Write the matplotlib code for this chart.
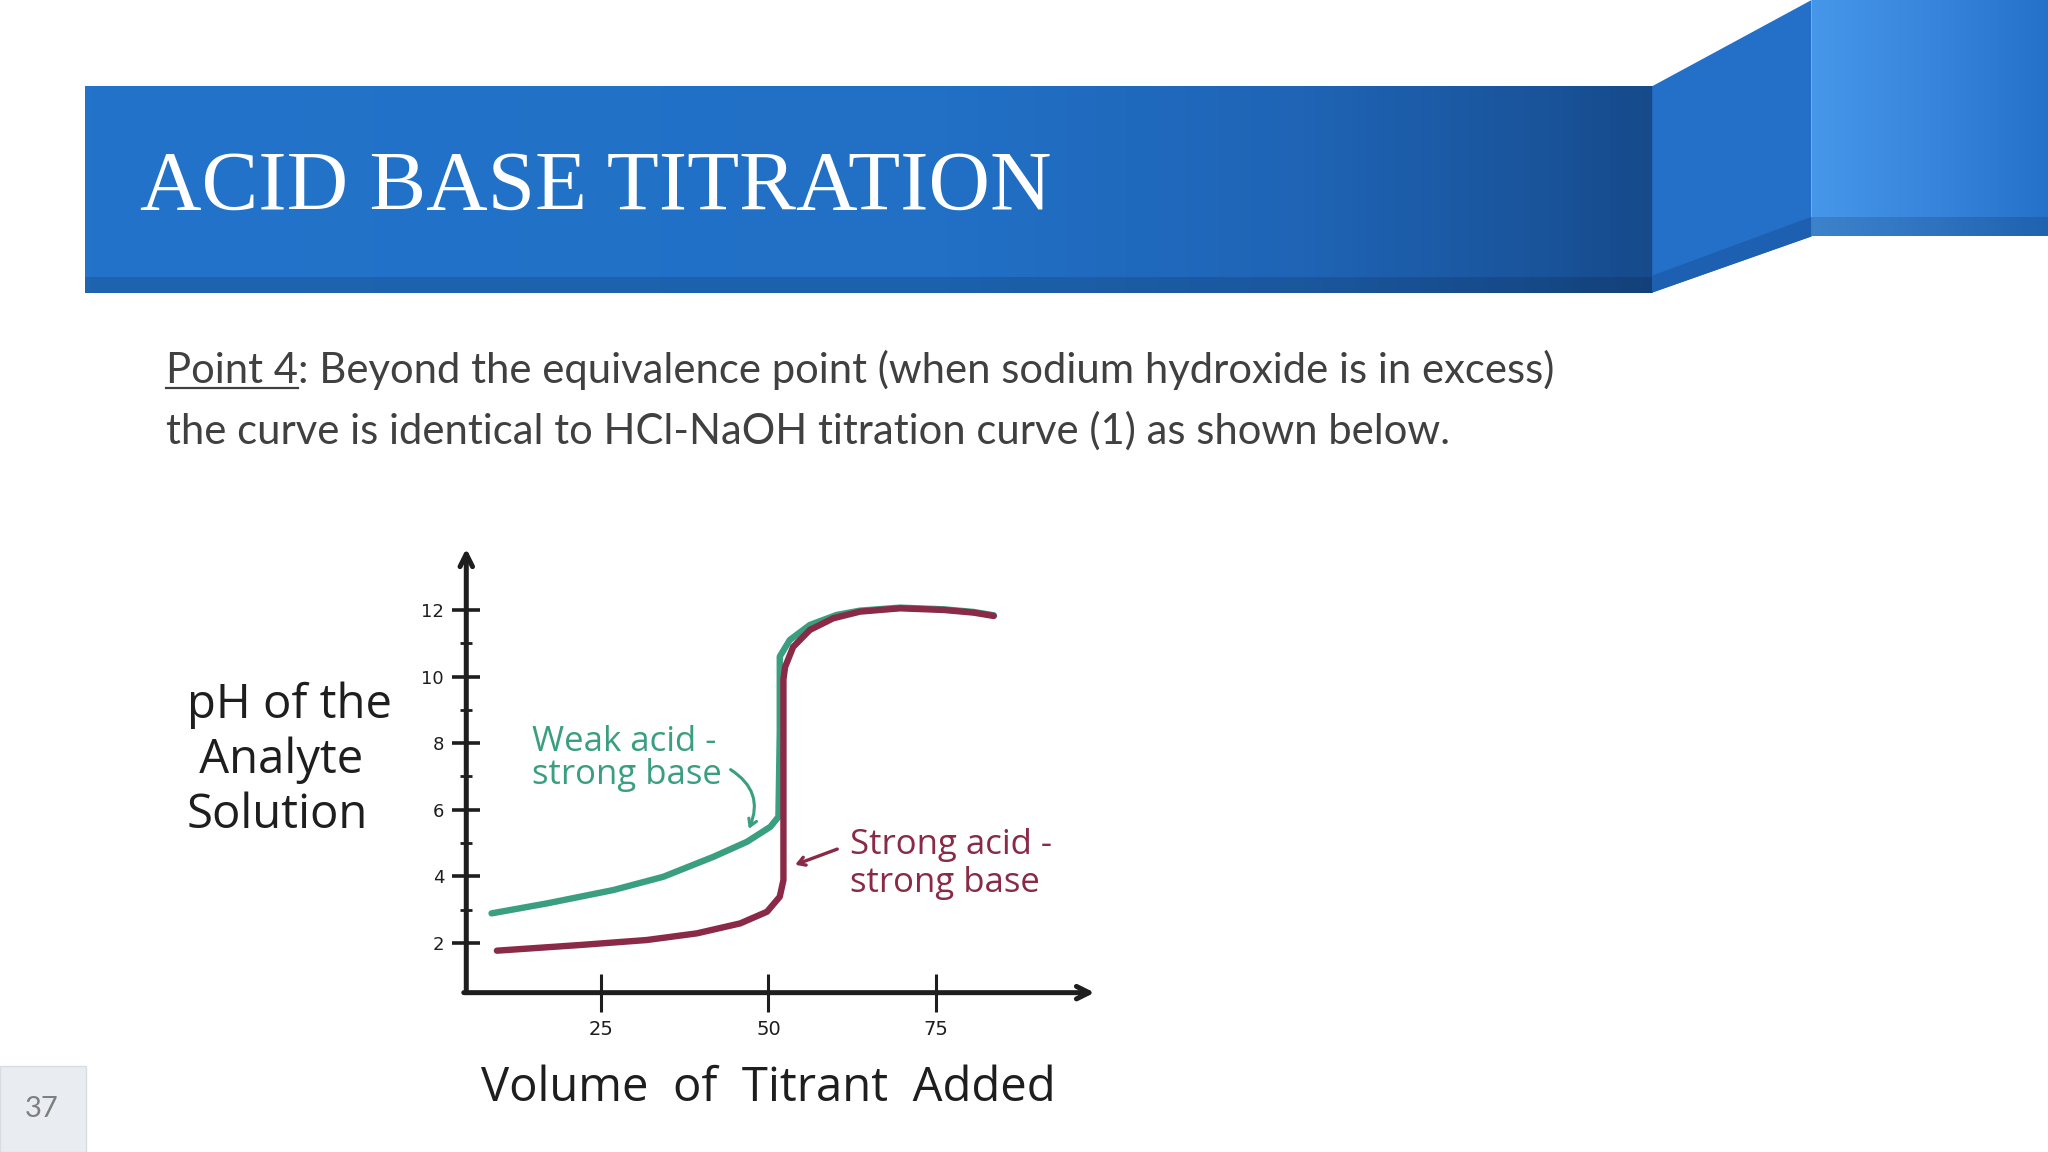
"""Slide 37: acid-base titration curves."""

import matplotlib

matplotlib.use("Agg")
import matplotlib.pyplot as plt
import numpy as np
from matplotlib.colors import LinearSegmentedColormap
from matplotlib.patches import Polygon, Rectangle

# Curve data (volume of titrant, pH).
weak_x = [8.6, 16.9, 26.8, 34.3, 41.8, 46.8, 50.3, 51.5, 51.7, 51.7, 51.7,
          53.2, 56.2, 60.2, 63.7, 69.7, 76.2, 80.7, 83.7]
weak_ph = [2.89, 3.19, 3.59, 3.99, 4.59, 5.04, 5.49, 5.79, 8.35, 10.12,
           10.60, 11.10, 11.55, 11.85, 11.98, 12.07, 12.02, 11.94, 11.84]
strong_x = [9.4, 21.8, 31.8, 39.3, 45.8, 49.8, 51.7, 52.25, 52.25, 52.25,
            52.5, 53.7, 56.2, 59.7, 63.7, 69.7, 76.2, 80.7, 83.7]
strong_ph = [1.77, 1.94, 2.09, 2.29, 2.59, 2.94, 3.39, 3.89, 6.78, 9.92,
             10.29, 10.89, 11.40, 11.75, 11.95, 12.05, 12.00, 11.92, 11.82]

x_ticks = [25, 50, 75]
y_ticks = [2, 4, 6, 8, 10, 12]
y_minor = [3, 5, 7, 9, 11]

TITLE = "ACID BASE TITRATION"
BODY_1 = ": Beyond the equivalence point (when sodium hydroxide is in excess)"
BODY_2 = "the curve is identical to HCl-NaOH titration curve (1) as shown below."

GREEN = "#3a9f80"
MAROON = "#8a2a47"
INK = "#1e1e1e"

W, H = 1568, 882  # reference layout grid


def fx(x):
    return x / W


def fy(y):
    return 1 - y / H


def poly(fig, pts, color, z=1):
    p = Polygon([(fx(a), fy(b)) for a, b in pts], closed=True,
                transform=fig.transFigure, facecolor=color, edgecolor="none",
                zorder=z)
    fig.add_artist(p)


def gradient_box(fig, x0, y0, x1, y1, colors, strip):
    """Horizontal gradient panel with a darker strip along its bottom."""
    bx = fig.add_axes([fx(x0), fy(y1), (x1 - x0) / W, (y1 - y0) / H])
    cmap = LinearSegmentedColormap.from_list("g", colors)
    bx.imshow(np.linspace(0, 1, 256)[None, :], aspect="auto", cmap=cmap,
              extent=(0, 1, 0, 1))
    bx.add_patch(Rectangle((0, 0), 1, strip / (y1 - y0), facecolor="black",
                           alpha=0.13, edgecolor="none"))
    bx.set_xlim(0, 1)
    bx.set_ylim(0, 1)
    bx.set_axis_off()
    return bx


fig = plt.figure(figsize=(20.48, 11.52), dpi=100)
fig.patch.set_facecolor("white")

# header banner
gradient_box(fig, 65, 66, 1265, 224,
             [(0, "#2373ca"), (0.55, "#2170c6"), (0.78, "#1f64b5"),
              (0.92, "#1a559d"), (1, "#164a8b")], 12)
poly(fig, [(1265, 66), (1387, 0), (1387, 181), (1265, 224)], "#2470c9")
poly(fig, [(1265, 211), (1387, 166), (1387, 181), (1265, 224)], "#1d5fb1", 2)
gradient_box(fig, 1387, 0, 1568, 181,
             [(0, "#4697ea"), (0.5, "#3785dc"), (1, "#2471c9")], 15)

fig.text(fx(107), fy(145), TITLE, color="white", fontsize=61.3,
         family="Liberation Serif", va="center", ha="left")

# body text with underlined "Point 4"
body_kw = dict(color="#404040", fontsize=30.1, family="Lato", va="baseline")
pt = fig.text(fx(127), fy(293), "Point 4", **body_kw)
fig.canvas.draw()
bb = pt.get_window_extent().transformed(fig.transFigure.inverted())
fig.add_artist(plt.Line2D([bb.x0, bb.x1], [fy(297), fy(297)],
                          transform=fig.transFigure, color="#404040", lw=1.6))
fig.text(bb.x1, fy(293), BODY_1, **body_kw)
fig.text(fx(127), fy(340), BODY_2, **body_kw)

# page number box
fig.add_artist(Rectangle((0, 0), fx(66), 66 / H, transform=fig.transFigure,
                         facecolor="#e9ecf1", edgecolor="#d8dce3", lw=1))
fig.text(fx(32), fy(849), "37", color="#7f7f7f", fontsize=21, family="Lato",
         ha="center", va="center")

# titration chart
ax = fig.add_axes([fx(357), fy(760), (838 - 357) / W, (760 - 420) / H])
ax.set_xlim((357 - 332.3) / 5.12, (838 - 332.3) / 5.12)
ax.set_ylim((773 - 760) / 25.5, (773 - 420) / 25.5)
for s in ax.spines.values():
    s.set_visible(False)
ax.patch.set_alpha(0)

arrow = dict(arrowstyle="->,head_length=0.9,head_width=0.45", lw=3.6,
             color=INK, shrinkA=0, shrinkB=0)
ax.annotate("", xy=(0, 1), xytext=(0, 0), xycoords="axes fraction",
            arrowprops=arrow)
ax.annotate("", xy=(1, 0), xytext=(-0.004, 0), xycoords="axes fraction",
            arrowprops=arrow)

ax.set_yticks(y_ticks)
ax.set_yticklabels([str(v) for v in y_ticks])
ax.set_yticks(y_minor, minor=True)
ax.set_xticks(x_ticks)
ax.set_xticklabels([str(v) for v in x_ticks])
ax.tick_params(axis="y", which="major", direction="inout", length=20,
               width=2.6, color=INK, pad=6, labelsize=13, labelcolor=INK)
ax.tick_params(axis="y", which="minor", direction="inout", length=8,
               width=2.0, color=INK)
ax.tick_params(axis="x", which="major", direction="inout", length=28,
               width=2.2, color=INK, pad=6, labelsize=14, labelcolor=INK)

ax.plot(weak_x, weak_ph, color=GREEN, lw=4.6, solid_capstyle="round",
        solid_joinstyle="round", zorder=3)
ax.plot(strong_x, strong_ph, color=MAROON, lw=4.6, solid_capstyle="round",
        solid_joinstyle="round", zorder=4)

ax.text(14.6, 8.55, "Weak acid -\nstrong base", color=GREEN, fontsize=25,
        family="Open Sans", va="top", ha="left", linespacing=0.95)
ax.annotate("", xy=(46.9, 5.35), xytext=(44.0, 7.25),
            arrowprops=dict(arrowstyle="->,head_length=0.5,head_width=0.3",
                            color=GREEN, lw=2.2,
                            connectionstyle="arc3,rad=-0.45"))
ax.text(62.2, 5.45, "Strong acid -\nstrong base", color=MAROON, fontsize=25,
        family="Open Sans", va="top", ha="left", linespacing=1.15)
ax.annotate("", xy=(54.0, 4.35), xytext=(60.3, 4.82),
            arrowprops=dict(arrowstyle="->,head_length=0.5,head_width=0.3",
                            color=MAROON, lw=2.4, shrinkA=0, shrinkB=0))

fig.text(fx(143), fy(522), "pH of the\n Analyte\nSolution", color=INK,
         fontsize=34, family="Open Sans", va="top", ha="left",
         linespacing=1.2)
fig.text(fx(588), fy(833), "Volume  of  Titrant  Added", color=INK,
         fontsize=34, family="Open Sans", va="center", ha="center")

fig.savefig("out.png", dpi=100)
plt.close(fig)
